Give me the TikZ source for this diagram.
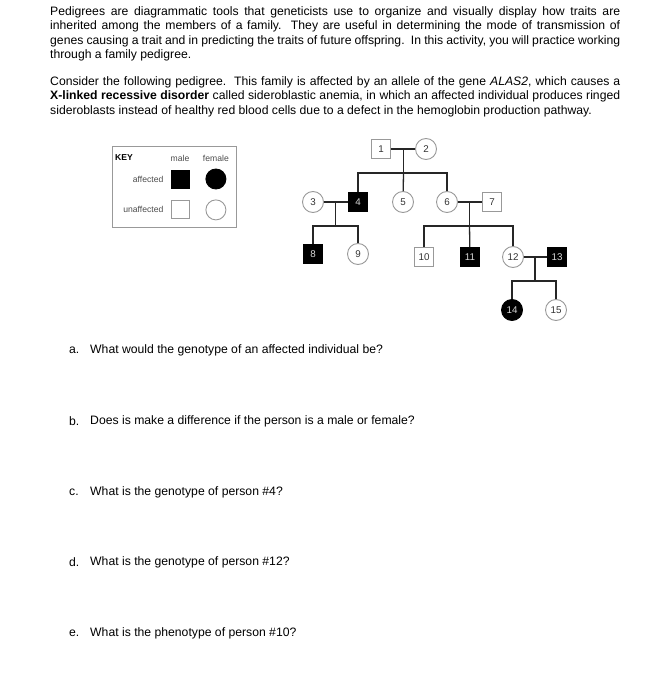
\documentclass[tikz,border=0pt]{standalone}
\usepackage{fontspec}
\setmainfont{Liberation Sans}
\usepackage{xcolor}
\usetikzlibrary{positioning,calc}

\newcommand{\bodyfont}{\fontsize{12.2}{14.6}\selectfont}
\newcommand{\keyfont}{\fontsize{8.6}{9}\selectfont}

\tikzset{
  male/.style={rectangle, draw=black!40, line width=0.9pt, minimum size=19pt, inner sep=0pt, text=black!80, font=\fontsize{9.8}{10}\selectfont},
  female/.style={male, circle, minimum size=21pt},
  ill/.style={fill=black, draw=black, text=white!85!black},
  kin/.style={draw=black!85, line width=1.3pt},
  para/.style={anchor=north west, text width=570pt, align=justify, inner sep=0pt, font=\bodyfont, text=black},
  keylabel/.style={inner sep=0pt, font=\keyfont, text=black!70}
}

\begin{document}
\begin{tikzpicture}[x=1pt, y=-1pt]
\fill[white] (0,0) rectangle (668,700);
\useasboundingbox (0,0) rectangle (668,700);

% text on top
\node[para] (intro) at (50,6) {\hyphenpenalty=10000 Pedigrees are diagrammatic tools that geneticists use to organize and visually display how traits are\linebreak inherited among the members of a family.\ \ They are useful in determining the mode of transmission of\linebreak genes causing a trait and in predicting the traits of future offspring.\ \ In this activity, you will practice working\linebreak through a family pedigree.};
\node[para] (consider) at (50,76) {\hyphenpenalty=10000 Consider the following pedigree.\ \ This family is affected by an allele of the gene \textit{ALAS2}, which causes a\linebreak \textbf{X-linked recessive disorder} called sideroblastic anemia, in which an affected individual produces ringed\linebreak sideroblasts instead of healthy red blood cells due to a defect in the hemoglobin production pathway.};

% key
\draw[draw=black!40, line width=1pt] (112,147) rectangle (236,228);
\node[keylabel, text=black, font=\keyfont\bfseries, anchor=west] (key) at (115,158) {KEY};
\node[male,ill, minimum size=18pt] (kam) at (180,179) {};
\node[female,ill, minimum size=20pt, right=16pt of kam] (kaf) {};
\node[male, minimum size=18pt, below=12pt of kam] (kum) {};
\node[female, minimum size=20pt, right=16pt of kum] (kuf) {};
\node[keylabel, above=8pt of kam] (kmale) {male};
\node[keylabel] (kfemale) at (kaf |- kmale) {female};
\node[keylabel, left=7pt of kam] (kaff) {affected};
\node[keylabel, left=7pt of kum] (kunaff) {unaffected};

% pedigree
\node[male] (p1) at (381,149) {1};
\node[female] (p2) at (426,149) {2};
\node[female] (p3) at (313,202) {3};
\node[male,ill] (p4) at (358,202) {4};
\node[female] (p5) at (403,202) {5};
\node[female] (p6) at (447,202) {6};
\node[male] (p7) at (492,202) {7};
\node[male,ill] (p8) at (313,254) {8};
\node[female] (p9) at (358,254) {9};
\node[male] (p10) at (424,257) {10};
\node[male,ill] (p11) at (470,257) {11};
\node[female] (p12) at (513,257) {12};
\node[male,ill] (p13) at (557,257) {13};
\node[female,ill] (p14) at (512,310) {14};
\node[female] (p15) at (556,310) {15};

\foreach \a/\b in {1/2,3/4,6/7,12/13}
	{\draw[kin] (p\a) -- (p\b);
	\coordinate (m\a) at ($(p\a)!0.5!(p\b)$);
	\coordinate (s\a) at ($(m\a)+(0,24)$);
	\draw[kin] (m\a) -- (s\a);}

\draw[kin] (p4) |- (s1) -| (p6);
\draw[kin] (s1) -- (p5);
\draw[kin] (p8) |- (s3) -| (p9);
\draw[kin] (p10) |- (s6) -| (p12);
\draw[kin] (s6) -- (p11);
\draw[kin] (p14) |- (s12) -| (p15);

% questions
\foreach \l/\y/\t in {a/350/{What would the genotype of an affected individual be?},
	b/421/{Does is make a difference if the person is a male or female?},
	c/492/{What is the genotype of person \#4?},
	d/562/{What is the genotype of person \#12?},
	e/633/{What is the phenotype of person \#10?}}
	{\node[anchor=west, inner sep=0pt, font=\bodyfont] (l\l) at (69,\y) {\l.};
	\node[anchor=west, inner sep=0pt, font=\bodyfont] (q\l) at (90,\y) {\t};}
\end{tikzpicture}
\end{document}
